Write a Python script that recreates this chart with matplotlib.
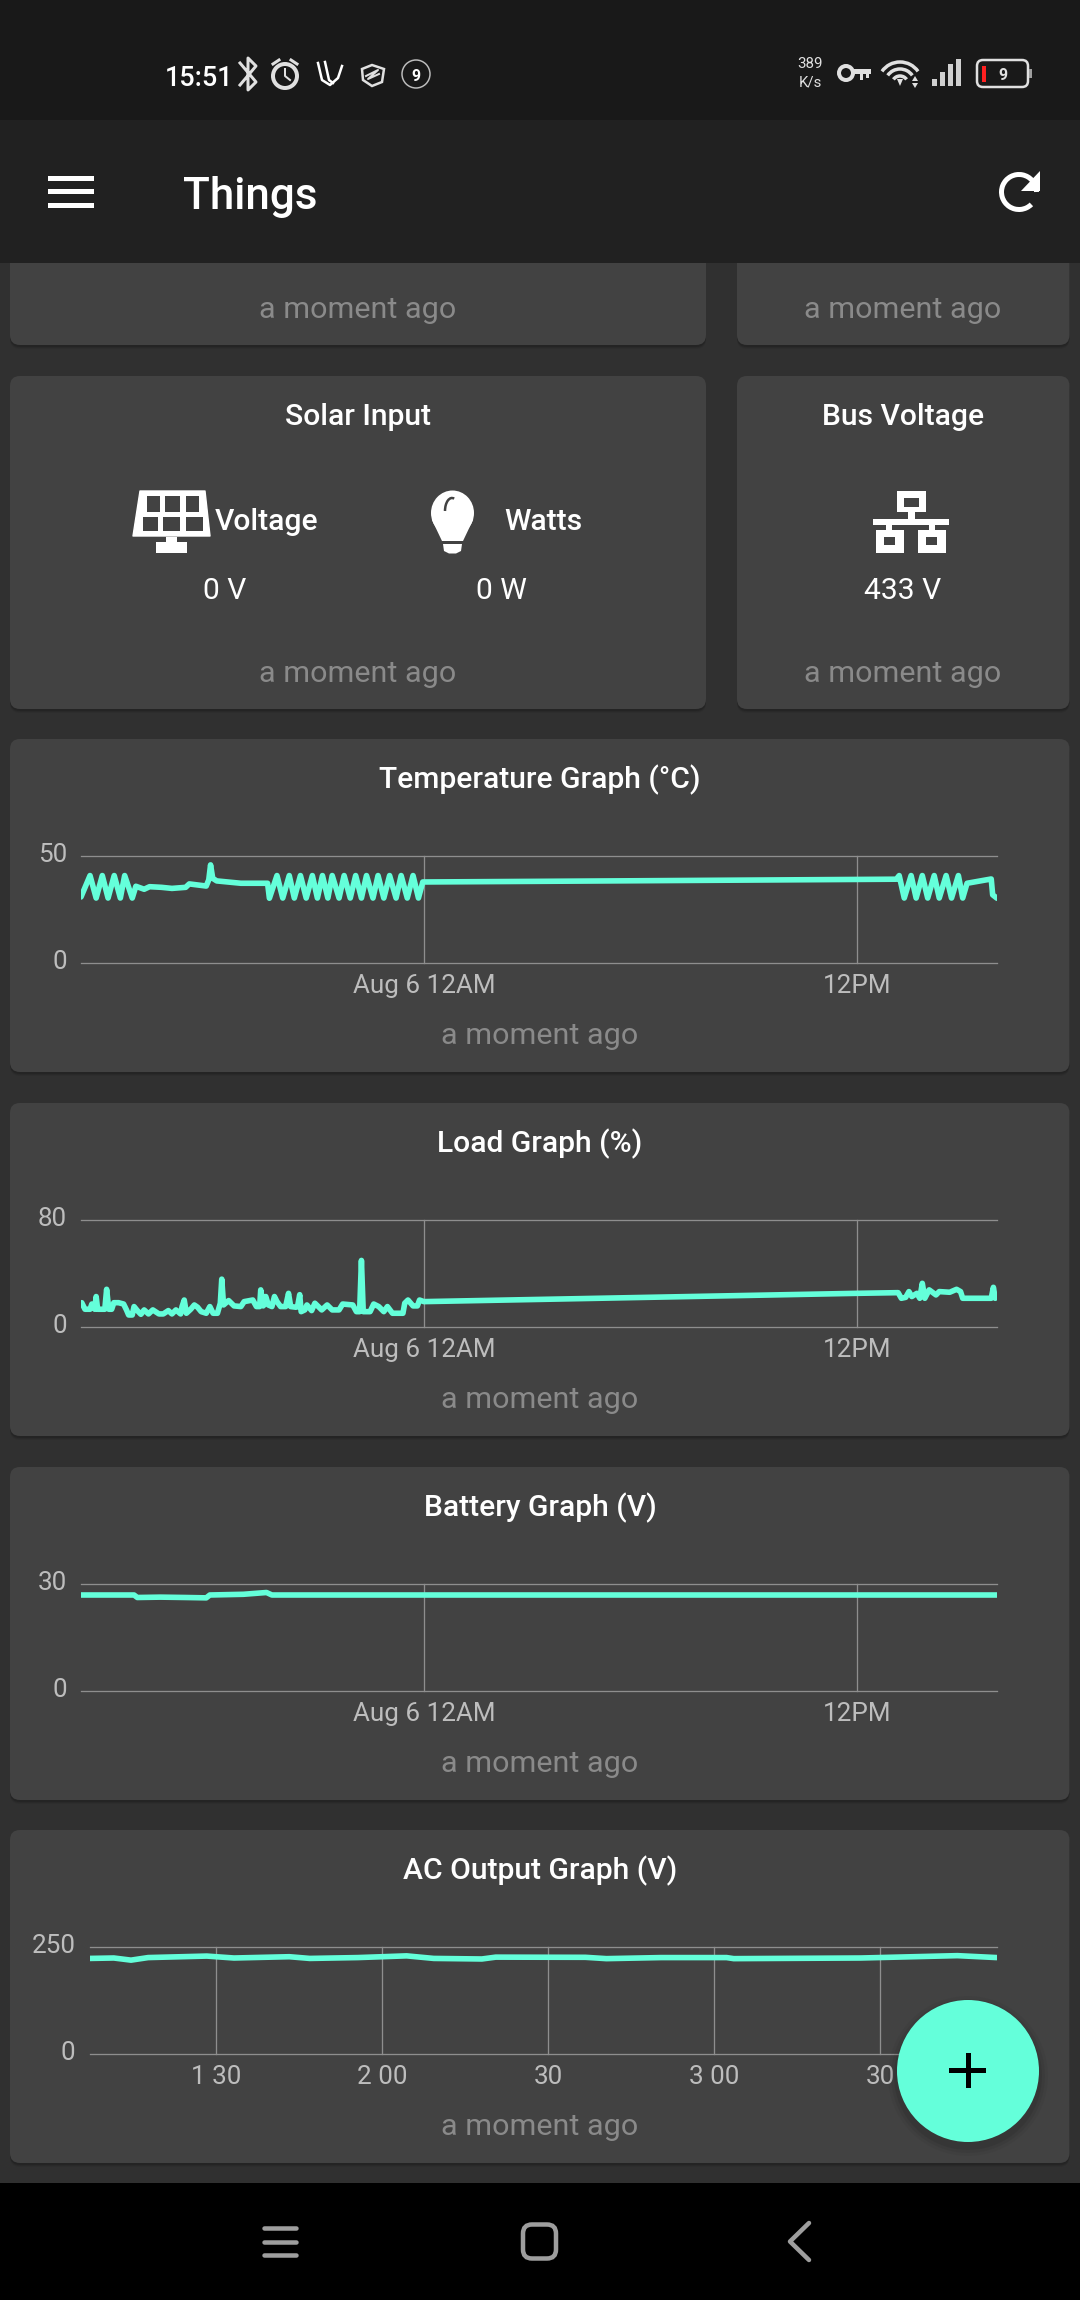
import matplotlib
matplotlib.use("Agg")
import matplotlib.pyplot as plt
from matplotlib.patches import FancyBboxPatch, Rectangle, Circle, Polygon, Arc, Ellipse
from matplotlib.transforms import ScaledTranslation

plt.rcParams["font.family"] = ["Roboto", "DejaVu Sans"]

W, H = 1080, 2300
ACCENT = "#64FFDA"
CARD = "#424242"
BODY = "#303030"
GRID = "#8E8E8E"
TICK = "#BDBDBD"
MUTED = "#8A8A8A"

# hours relative to Aug 6 12AM
temp_hours = [-9.50, -9.25, -9.08, -8.91, -8.75, -8.58, -8.41, -8.29, -8.08, -7.98, -7.75, -7.60, -7.27, -6.98,
              -6.60, -6.50, -6.03, -5.96, -5.91, -5.85, -5.74, -5.07, -4.33, -4.28, -4.07, -3.91, -3.73, -3.59,
              -3.42, -3.26, -3.09, -2.95, -2.81, -2.66, -2.54, -2.35, -2.21, -2.04, -1.89, -1.73, -1.59, -1.41,
              -1.27, -1.11, -0.95, -0.77, -0.63, -0.46, -0.30, -0.15, -0.03, 3.20, 13.09, 13.17, 13.31, 13.50,
              13.64, 13.81, 13.96, 14.14, 14.28, 14.47, 14.62, 14.81, 14.93, 15.05, 15.72, 15.76, 15.88]
temp_values = [31, 41, 30.5, 41, 30.5, 41, 30.5, 41, 30.5, 36, 34.6, 35.8, 35.5, 35,
               35.5, 37.1, 36.1, 39, 46, 39.7, 38.5, 37.4, 37.4, 30.4, 41, 30.5, 41, 30.5,
               41, 30.5, 41, 30.5, 41, 30.5, 41, 30.5, 41, 30.5, 41, 30.5, 41, 30.5,
               41, 30.5, 41, 30.5, 41, 30.5, 41, 30.5, 38, 38.3, 39.3, 41, 30.5, 41,
               30.5, 41, 30.5, 41, 30.5, 41, 30.5, 41, 30.5, 37.4, 39.4, 32, 30.4]

load_hours = [-9.48, -9.39, -9.25, -9.20, -9.12, -9.08, -9.04, -8.84, -8.79, -8.73, -8.65, -8.59, -8.46, -8.32,
              -8.24, -8.18, -8.08, -8.03, -7.94, -7.84, -7.75, -7.63, -7.51, -7.34, -7.22, -7.08, -6.98, -6.87,
              -6.74, -6.70, -6.64, -6.58, -6.46, -6.36, -6.27, -6.17, -6.03, -5.93, -5.84, -5.72, -5.64, -5.60,
              -5.55, -5.41, -5.26, -5.07, -4.98, -4.74, -4.64, -4.55, -4.52, -4.45, -4.38, -4.31, -4.21, -4.14,
              -4.07, -3.97, -3.83, -3.75, -3.69, -3.54, -3.50, -3.44, -3.40, -3.30, -3.24, -3.11, -3.02, -2.83,
              -2.68, -2.54, -2.35, -2.25, -1.97, -1.87, -1.78, -1.73, -1.68, -1.49, -1.39, -1.25, -1.11, -1.01,
              -0.87, -0.58, -0.53, -0.44, -0.30, -0.18, -0.12, 0, 12, 13.14, 13.23, 13.35, 13.44, 13.52, 13.66,
              13.74, 13.81, 13.88, 14.00, 14.19, 14.28, 14.57, 14.76, 14.87, 14.93, 15.72, 15.78, 15.83, 15.88]
load_values = [18.4, 13.5, 13.5, 17.4, 13.5, 23, 13.5, 13.5, 28.4, 13.5, 13.5, 18.4, 18.4, 17.4,
               13, 9.2, 9.2, 15.5, 12.5, 9.7, 13, 10, 13, 10, 10, 12.5, 10, 13,
               10, 15.5, 20.4, 10.5, 13.5, 16.7, 15, 11.7, 10.5, 15.5, 10.5, 10.5, 18, 36,
               16.7, 20, 16, 15.5, 19.2, 20.4, 15.5, 15.5, 28, 16, 23, 16.7, 15.5, 23,
               19.2, 15.5, 15.5, 25.4, 15.5, 15, 15.5, 24.4, 11.7, 13, 16.7, 12.5, 18, 13,
               16.7, 13, 13, 17.4, 16.7, 11.7, 11.7, 50, 11.7, 11.7, 17.4, 15.5, 11.7, 15.5,
               10.5, 10.5, 18, 20.4, 16, 16, 20.4, 19.2, 25.4, 25.9, 21.7, 22.4, 26.7, 23, 25.4,
               21.7, 32.9, 21.7, 28, 24.2, 26.7, 26.2, 28.4, 26.7, 21.7, 21.7, 29.9, 21.7, 24.2]

battery_hours = [-9.50, -8.03, -7.94, -7.30, -6.60, -6.03, -5.93, -5.00, -4.36, -4.21, -2.00, 0, 6, 12, 15.88]
battery_values = [27, 27, 26.3, 26.4, 26.3, 26.2, 27, 27.2, 27.7, 27, 27, 27, 27, 27, 27]

# minutes since midnight
ac_minutes = [67.1, 71.5, 74.6, 77.7, 88.3, 93.2, 103.2, 106.9, 115.6, 124.4, 129.3, 138, 140.5, 156.7, 160.5,
              170.4, 182.2, 183.5, 206.5, 223.9, 231]
ac_values = [224, 225, 220, 226, 229.5, 225, 228, 224, 226, 230, 224, 222.7, 227, 226.6, 223.5,
             226, 226, 223.5, 225, 230.5, 226]

hour_ticks = [0, 12]
hour_labels = ["Aug 6 12AM", "12PM"]
ac_ticks = [90, 120, 150, 180, 210]
ac_labels = ["1 30", "2 00", "30", "3 00", "30"]

chart_titles = ["Temperature Graph (°C)", "Load Graph (%)", "Battery Graph (V)", "AC Output Graph (V)"]
chart_tops = [739, 1103, 1467, 1830]

fig = plt.figure(figsize=(W / 100, H / 100), dpi=100, facecolor=BODY)
ui = fig.add_axes([0, 0, 1, 1], zorder=0)
ui.set_xlim(0, W)
ui.set_ylim(H, 0)
ui.axis("off")
top = fig.add_axes([0, 0, 1, 1], zorder=3)
top.set_xlim(0, W)
top.set_ylim(H, 0)
top.axis("off")
top.patch.set_alpha(0)


def lw(px):
    return px * 0.72


def fs(px):
    return px * 0.72


def card(x0, y0, x1, y1):
    for i, a in ((3, 0.05), (2, 0.07), (1, 0.1)):
        ui.add_patch(FancyBboxPatch((x0, y0 + 1 + i), x1 - x0, y1 - y0, boxstyle="round,pad=0,rounding_size=10",
                                    fc="black", ec="none", alpha=a))
    ui.add_patch(FancyBboxPatch((x0, y0), x1 - x0, y1 - y0, boxstyle="round,pad=0,rounding_size=10", fc=CARD, ec="none"))


def label(ax, x, y, s, size, color="white", weight="normal", ha="center"):
    ax.text(x, y, s, fontsize=fs(size), color=color, fontweight=weight, ha=ha, va="center_baseline")


def rect(ax, x0, y0, x1, y1, color="white", z=5):
    ax.add_patch(Rectangle((x0, y0), x1 - x0, y1 - y0, fc=color, ec="none", zorder=z))


def chart(ytop, xlim, ymax, xs, ys, ticks, tick_labels, left=81, right=997):
    grid_top = ytop + 117.3
    grid_bottom = ytop + 224.3
    ax = fig.add_axes([left / W, 1 - grid_bottom / H, (right - left) / W, (grid_bottom - grid_top) / H], zorder=1)
    ax.patch.set_alpha(0)
    for s in ax.spines.values():
        s.set_visible(False)
    ax.set_xlim(*xlim)
    ax.set_ylim(0, ymax)
    ax.set_xticks(ticks)
    ax.set_xticklabels(tick_labels)
    ax.set_yticks([0, ymax])
    ax.tick_params(length=0, labelsize=fs(26), labelcolor=TICK)
    ax.tick_params(axis="x", pad=8)
    ax.tick_params(axis="y", pad=10)
    ax.grid(True, color=GRID, lw=lw(1.3), clip_on=False)
    ax.set_axisbelow(True)
    for t in ax.get_yticklabels():
        t.set_transform(t.get_transform() + ScaledTranslation(0, 4 / 100, fig.dpi_scale_trans))
    ax.plot(xs, ys, color=ACCENT, lw=lw(5.6), solid_joinstyle="round", solid_capstyle="round")
    return ax


# partial cards under the app bar
card(10, 200, 706, 345)
card(737, 200, 1069.5, 345)
label(ui, 358, 307.5, "a moment ago", 30.5, MUTED)
label(ui, 903, 307.5, "a moment ago", 30.5, MUTED)

# solar and bus cards
card(10, 376, 706, 709)
card(737, 376, 1069.5, 709)
label(ui, 358, 414, "Solar Input", 30, weight="medium")
label(ui, 903, 414, "Bus Voltage", 30, weight="medium")
label(ui, 267, 519, "Voltage", 30, weight="medium")
label(ui, 543, 519, "Watts", 30, weight="medium")
label(ui, 225, 588, "0 V", 30)
label(ui, 501, 588, "0 W", 30)
label(ui, 903, 588, "433 V", 30)
label(ui, 358, 671, "a moment ago", 30.5, MUTED)
label(ui, 903, 671, "a moment ago", 30.5, MUTED)

# solar panel icon
ui.add_patch(Polygon([(140, 491), (205, 491), (210, 536), (133, 536)], fc="white", ec="white", lw=1, joinstyle="round", zorder=5))
for a, b in ((147, 160), (165, 180), (186, 199)):
    rect(ui, a, 496, b, 512, CARD, 6)
for a, b in ((143, 158), (163, 180), (186, 203)):
    rect(ui, a, 517, b, 531, CARD, 6)
rect(ui, 156, 542, 187, 553)
rect(ui, 166, 537, 177, 543)

# bulb icon
ui.add_patch(Ellipse((452.5, 513), 43, 45, fc="white", ec="none", zorder=5))
ui.add_patch(Polygon([(432, 520), (473, 520), (463, 541), (442, 541)], fc="white", ec="none", zorder=5))
ui.add_patch(Polygon([(443, 544), (462, 544), (461, 551), (456, 553.5), (449, 553.5), (444, 551)], fc="white", ec="none", zorder=5))
ui.add_patch(Arc((452, 511), 14, 26, theta1=180, theta2=280, color=CARD, lw=lw(2.5), zorder=6))

# network icon
rect(ui, 897, 491, 926, 512)
rect(ui, 904, 498, 919, 507, CARD, 6)
rect(ui, 908, 512, 915, 520)
rect(ui, 872.5, 519, 949, 525)
rect(ui, 886, 525, 892, 531)
rect(ui, 929, 525, 935, 531)
for x0, x1 in ((876, 903.5), (918, 945.5)):
    rect(ui, x0, 530, x1, 553)
    rect(ui, x0 + 7.5, 537, x1 - 8.5, 544.5, CARD, 6)

# chart cards
for ytop, title in zip(chart_tops, chart_titles):
    card(10, ytop, 1069.5, ytop + 333)
    label(ui, 540, ytop + 37, title, 30, weight="medium")
    label(ui, 540, ytop + 294, "a moment ago", 30.5, MUTED)

hour_xlim = (-9.5, 15.88)
chart(chart_tops[0], hour_xlim, 50, temp_hours, temp_values, hour_ticks, hour_labels)
chart(chart_tops[1], hour_xlim, 80, load_hours, load_values, hour_ticks, hour_labels)
chart(chart_tops[2], hour_xlim, 30, battery_hours, battery_values, hour_ticks, hour_labels)
chart(chart_tops[3], (67.1, 231), 250, ac_minutes, ac_values, ac_ticks, ac_labels, left=89.5, right=996.6)

# status bar
rect(top, 0, 0, W, 120, "#191919", 1)
label(top, 199.5, 75, "15:51", 27, weight="medium")
top.plot([240, 256, 248, 248, 256, 240], [63, 82, 90, 58, 66, 85], color="#E0E0E0", lw=lw(3), zorder=5)
top.add_patch(Circle((285, 76), 12, fc="none", ec="#E0E0E0", lw=lw(4), zorder=5))
top.plot([285, 285, 290], [69, 76, 80], color="#E0E0E0", lw=lw(2), zorder=5)
top.plot([273, 279], [64, 60], color="#E0E0E0", lw=lw(3), zorder=5)
top.plot([291, 297], [60, 64], color="#E0E0E0", lw=lw(3), zorder=5)
top.plot([318, 322, 330, 338, 342], [63, 80, 85, 78, 66], color="white", lw=lw(2.5), zorder=5)
top.plot([325, 329, 333], [62, 80, 83], color="white", lw=lw(2.5), zorder=5)
top.add_patch(Polygon([(372, 65), (384, 69), (382, 82), (372, 86), (363, 80), (362, 69)], fc="none", ec="#E0E0E0", lw=lw(2.5), zorder=5))
top.plot([366, 378, 368, 379], [76, 70, 79, 74], color="#E0E0E0", lw=lw(2), zorder=5)
top.add_patch(Circle((416, 74), 14, fc="none", ec="#BDBDBD", lw=lw(1.5), zorder=5))
label(top, 416, 75, "9", 16, weight="bold")
label(top, 810, 63, "389", 15, "#E0E0E0")
label(top, 810, 81, "K/s", 15, "#E0E0E0")
top.add_patch(Circle((846, 73), 7, fc="none", ec="#E0E0E0", lw=lw(4), zorder=5))
rect(top, 852, 69, 871, 74, "#E0E0E0")
rect(top, 860, 73, 863, 80, "#E0E0E0")
rect(top, 866, 73, 869, 78, "#E0E0E0")
for r in (22, 15, 8):
    top.add_patch(Arc((900, 84), r * 2, r * 2, theta1=215, theta2=325, color="#E0E0E0", lw=lw(3.5), zorder=5))
top.add_patch(Polygon([(897, 79), (903, 79), (900, 86)], fc="#E0E0E0", ec="none", zorder=5))
top.add_patch(Polygon([(912, 81), (918, 81), (915, 76)], fc="#E0E0E0", ec="none", zorder=5))
top.add_patch(Polygon([(912, 83), (918, 83), (915, 88)], fc="#E0E0E0", ec="none", zorder=5))
for i, h in enumerate((7, 14, 22, 27)):
    rect(top, 932 + i * 8, 86 - h, 937 + i * 8, 86, "#D0D0D0")
top.add_patch(FancyBboxPatch((977, 60), 51, 27, boxstyle="round,pad=0,rounding_size=6", fc="none", ec="#E0E0E0", lw=lw(2.5), zorder=5))
rect(top, 1029, 69, 1032, 78, "#9E9E9E")
rect(top, 982, 66, 986, 82, "#FF2020")
label(top, 1003, 74, "9", 16, "#E0E0E0", weight="bold")

# app bar
rect(top, 0, 120, W, 262.5, "#212121", 1)
label(top, 183.5, 192, "Things", 44, weight="medium", ha="left")
for y in (178, 191, 205):
    rect(top, 48, y - 2.5, 94, y + 2.5)
top.add_patch(Arc((1019, 192), 35, 35, theta1=-315, theta2=0, color="white", lw=lw(5), zorder=5))
top.add_patch(Polygon([(1040, 171), (1040, 191), (1021, 191)], fc="white", ec="none", zorder=5))

# navigation bar
rect(top, 0, 2183, W, H, "black", 1)
for y in (2228, 2241.5, 2255):
    top.plot([264, 296], [y, y], color="#9E9E9E", lw=lw(4.5), solid_capstyle="round", zorder=5)
top.add_patch(FancyBboxPatch((523, 2224.5), 33, 34, boxstyle="round,pad=0,rounding_size=9", fc="none", ec="#9E9E9E", lw=lw(4.5), zorder=5))
top.plot([809, 790, 809], [2223, 2241.5, 2260], color="#9E9E9E", lw=lw(4.5), solid_capstyle="round", zorder=5)

# add button
for r, a in ((80, 0.03), (77, 0.05), (74, 0.07)):
    top.add_patch(Circle((968, 2076), r, fc="black", ec="none", alpha=a, zorder=6))
top.add_patch(Circle((968, 2071), 71, fc=ACCENT, ec="none", zorder=7))
rect(top, 949, 2068, 986, 2072.5, "black", 8)
rect(top, 966, 2052.5, 970.5, 2088, "black", 8)

fig.savefig("out.png", dpi=100, facecolor=BODY)
